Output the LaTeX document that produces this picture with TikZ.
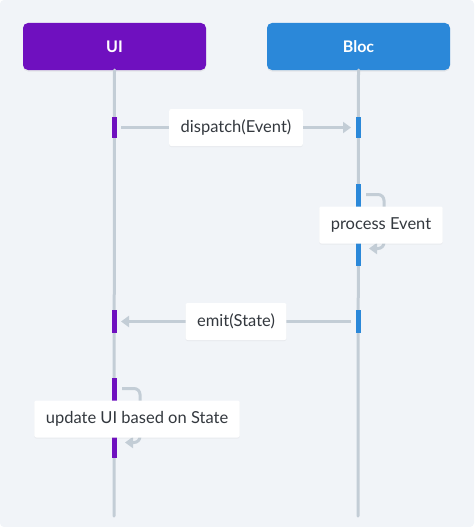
\documentclass[tikz,border=0pt]{standalone}
\usepackage{fontspec}
\setmainfont{Lato}
\usetikzlibrary{arrows.meta,positioning,calc,shadows}
\definecolor{bgcol}{HTML}{F1F4F8}
\definecolor{uicol}{HTML}{6F10BF}
\definecolor{bloccol}{HTML}{2B88D9}
\definecolor{linecol}{HTML}{C3CDD6}
\definecolor{txtcol}{HTML}{33383E}

\begin{document}
\begin{tikzpicture}[x=1pt, y=-1pt, line width=3pt,
    header/.style={rectangle, rounded corners=5pt, minimum width=183pt, minimum height=47pt,
        text=white, font=\fontsize{16}{19}\selectfont\bfseries,
        drop shadow={shadow xshift=0pt, shadow yshift=-1.5pt, opacity=0.12}},
    bar/.style={rectangle, minimum width=5pt, inner sep=0pt, draw=none},
    lifeline/.style={draw=linecol, line width=3pt, line cap=round},
    msg/.style={draw=linecol, -{Triangle[width=11pt,length=8pt]}, shorten <=3pt, shorten >=3pt},
    selfmsg/.style={draw=linecol, rounded corners=6pt, -{Triangle[width=11pt,length=8pt]}},
    note/.style={rectangle, rounded corners=2pt, fill=white, text=txtcol, minimum height=37pt,
        inner xsep=11.5pt, font=\fontsize{16.5}{19}\selectfont,
        drop shadow={shadow xshift=0pt, shadow yshift=-1pt, opacity=0.08}},
    ]
\useasboundingbox[fill=bgcol, rounded corners=4pt] (0,0) rectangle (474,527);

% participants
\node[header, fill=uicol]   (ui)   at (114.5,46.5) {UI};
\node[header, fill=bloccol] (bloc) at (358.5,46.5) {Bloc};
\coordinate (uiEnd)   at (114,516);
\coordinate (blocEnd) at (358,516);

% lifelines
\draw[lifeline] (ui.south |- 0,70) -- (uiEnd);
\draw[lifeline] (bloc.south |- 0,70) -- (blocEnd);

% activations
\node[bar, fill=uicol,   minimum height=21pt] (uiA)   at (114,127.5) {};
\node[bar, fill=bloccol, minimum height=21pt] (blocA) at (358,127.5) {};
\node[bar, fill=bloccol, minimum height=82pt] (blocB) at (358,225)   {};
\node[bar, fill=uicol,   minimum height=23pt] (uiB)   at (114,321.5) {};
\node[bar, fill=bloccol, minimum height=23pt] (blocC) at (358,321.5) {};
\node[bar, fill=uicol,   minimum height=80pt] (uiC)   at (114,418)   {};

% messages
\draw[msg] (uiA.east) -- node[note] {dispatch(Event)} (blocA.west);

\draw[selfmsg] ($(blocB.north east)+(4,12)$) -- ++(18,0) -- ++(0,54) -- ++(-15,0);
\node[note] (procEv) at ($(blocB)+(23,0)$) {process Event};

\draw[msg] (blocC.west) -- node[note] {emit(State)} (uiB.east);

\draw[selfmsg] ($(uiC.north east)+(4,12)$) -- ++(18,0) -- ++(0,54) -- ++(-15,0);
\node[note] (updUi) at ($(uiC)+(23,1)$) {update UI based on State};
\end{tikzpicture}
\end{document}
